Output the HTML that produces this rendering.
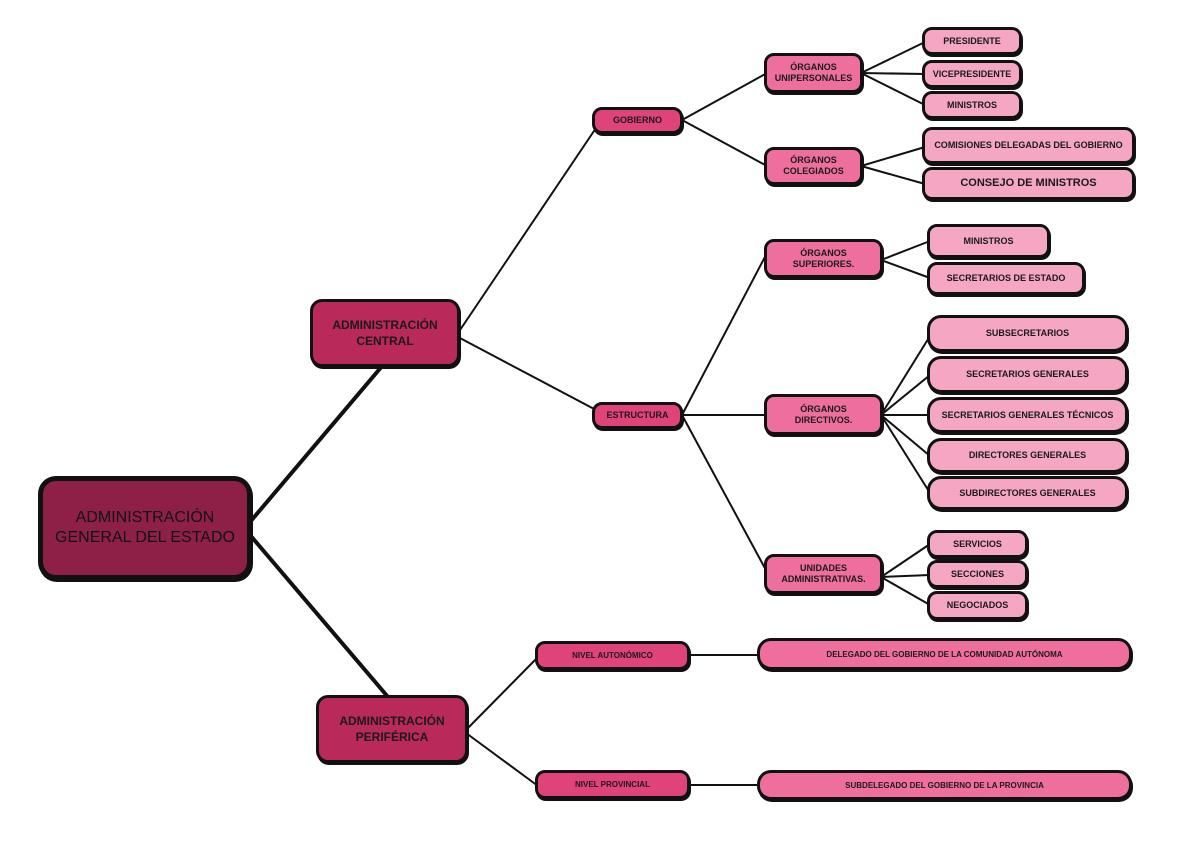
<!DOCTYPE html>
<html><head><meta charset="utf-8"><style>
body{margin:0;width:1200px;height:848px;background:#fff;position:relative;overflow:hidden;font-family:"Liberation Sans",Arial,sans-serif}
.b{position:absolute;box-sizing:border-box;border:3px solid #111;border-radius:10px;display:flex;align-items:center;justify-content:center;text-align:center;font-weight:bold;font-size:9px;line-height:11px;color:#1a1a1a;box-shadow:1px 2px 0 #111}
.l1{background:#f4a6c3}.m{background:#ee6f9d}.h{background:#e0437a}.c{background:#b92a5a}
svg{position:absolute;left:0;top:0}
</style></head><body>
<svg width="1200" height="848" stroke="#111" fill="none" stroke-width="2">
<line x1="250" y1="522" x2="383" y2="365" stroke-width="4"/>
<line x1="250" y1="535" x2="388" y2="697" stroke-width="4"/>
<line x1="458" y1="333" x2="596" y2="128"/>
<line x1="458" y1="337" x2="596" y2="410"/>
<line x1="682" y1="120" x2="767" y2="73"/>
<line x1="682" y1="120" x2="767" y2="166"/>
<line x1="861" y1="73" x2="925" y2="42"/>
<line x1="861" y1="73" x2="925" y2="74"/>
<line x1="861" y1="73" x2="925" y2="105"/>
<line x1="861" y1="166" x2="925" y2="147"/>
<line x1="861" y1="166" x2="925" y2="184"/>
<line x1="682" y1="415" x2="767" y2="253"/>
<line x1="682" y1="415" x2="767" y2="415"/>
<line x1="682" y1="415" x2="767" y2="572"/>
<line x1="881" y1="260" x2="930" y2="241"/>
<line x1="881" y1="260" x2="930" y2="278"/>
<line x1="881" y1="415" x2="930" y2="336"/>
<line x1="881" y1="415" x2="930" y2="375"/>
<line x1="881" y1="415" x2="930" y2="415"/>
<line x1="881" y1="415" x2="930" y2="456"/>
<line x1="881" y1="415" x2="930" y2="493"/>
<line x1="881" y1="577" x2="930" y2="544"/>
<line x1="881" y1="577" x2="930" y2="575"/>
<line x1="881" y1="577" x2="930" y2="605"/>
<line x1="466" y1="730" x2="538" y2="657"/>
<line x1="466" y1="733" x2="538" y2="786"/>
<line x1="688" y1="655" x2="760" y2="655"/>
<line x1="688" y1="785" x2="760" y2="785"/>
</svg>
<div class="b" style="left:38px;top:476px;width:214px;height:104px;background:#8e2048;border-width:5px;border-radius:18px;font-weight:normal;font-size:16px;line-height:20px;color:#111">ADMINISTRACIÓN<br>GENERAL DEL ESTADO</div>
<div class="b c" style="left:310px;top:299px;width:150px;height:68px;font-size:12px;line-height:16px;border-radius:12px">ADMINISTRACIÓN<br>CENTRAL</div>
<div class="b c" style="left:316px;top:695px;width:152px;height:68px;font-size:12px;line-height:16px;border-radius:12px">ADMINISTRACIÓN<br>PERIFÉRICA</div>
<div class="b h" style="left:592px;top:107px;width:91px;height:27px">GOBIERNO</div>
<div class="b h" style="left:592px;top:402px;width:91px;height:27px">ESTRUCTURA</div>
<div class="b m" style="left:764px;top:53px;width:99px;height:40px">ÓRGANOS<br>UNIPERSONALES</div>
<div class="b m" style="left:764px;top:147px;width:99px;height:38px">ÓRGANOS<br>COLEGIADOS</div>
<div class="b l1" style="left:922px;top:27px;width:100px;height:28px">PRESIDENTE</div>
<div class="b l1" style="left:922px;top:60px;width:100px;height:28px">VICEPRESIDENTE</div>
<div class="b l1" style="left:922px;top:91px;width:100px;height:28px">MINISTROS</div>
<div class="b l1" style="left:922px;top:127px;width:213px;height:37px">COMISIONES DELEGADAS DEL GOBIERNO</div>
<div class="b l1" style="left:922px;top:167px;width:213px;height:33px;font-size:11px">CONSEJO DE MINISTROS</div>
<div class="b m" style="left:764px;top:239px;width:119px;height:39px">ÓRGANOS<br>SUPERIORES.</div>
<div class="b l1" style="left:927px;top:224px;width:123px;height:34px">MINISTROS</div>
<div class="b l1" style="left:927px;top:262px;width:158px;height:33px">SECRETARIOS DE ESTADO</div>
<div class="b m" style="left:764px;top:394px;width:119px;height:41px">ÓRGANOS<br>DIRECTIVOS.</div>
<div class="b l1" style="left:927px;top:315px;width:201px;height:37px;border-radius:14px">SUBSECRETARIOS</div>
<div class="b l1" style="left:927px;top:356px;width:201px;height:37px;border-radius:14px">SECRETARIOS GENERALES</div>
<div class="b l1" style="left:927px;top:397px;width:201px;height:36px;border-radius:14px">SECRETARIOS GENERALES TÉCNICOS</div>
<div class="b l1" style="left:927px;top:438px;width:201px;height:35px;border-radius:14px">DIRECTORES GENERALES</div>
<div class="b l1" style="left:927px;top:476px;width:201px;height:34px;border-radius:14px">SUBDIRECTORES GENERALES</div>
<div class="b m" style="left:764px;top:554px;width:119px;height:40px">UNIDADES<br>ADMINISTRATIVAS.</div>
<div class="b l1" style="left:927px;top:530px;width:101px;height:28px">SERVICIOS</div>
<div class="b l1" style="left:927px;top:560px;width:101px;height:28px">SECCIONES</div>
<div class="b l1" style="left:927px;top:591px;width:101px;height:29px">NEGOCIADOS</div>
<div class="b h" style="left:535px;top:641px;width:155px;height:29px;font-size:8px">NIVEL AUTONÓMICO</div>
<div class="b h" style="left:535px;top:770px;width:155px;height:29px;font-size:8px">NIVEL PROVINCIAL</div>
<div class="b m" style="left:757px;top:638px;width:375px;height:32px;border-radius:14px;font-size:8px">DELEGADO DEL GOBIERNO DE LA COMUNIDAD AUTÓNOMA</div>
<div class="b m" style="left:757px;top:770px;width:375px;height:30px;border-radius:14px;font-size:8px">SUBDELEGADO DEL GOBIERNO DE LA PROVINCIA</div>
</body></html>
